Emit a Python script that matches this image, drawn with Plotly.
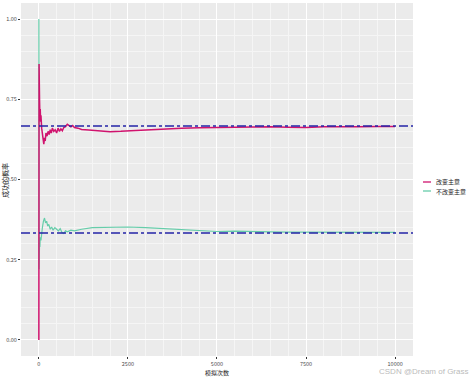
import plotly.graph_objects as go

# ---- data ----
change_x = [1, 2, 3, 5, 7, 10, 15, 20, 30, 40, 50, 60, 80, 100, 120, 140, 160, 180, 200,
            230, 260, 290, 320, 350, 380, 420, 460, 500, 540, 580, 620, 660, 700, 750, 800,
            850, 900, 950, 1000, 1100, 1200, 1400, 1600, 1800, 2000, 2300, 2600, 3000, 3500,
            4000, 4500, 5000, 5500, 6000, 6500, 7000, 7500, 8000, 8500, 9000, 9500, 10000]
change_y = [0.0, 0.5, 0.67, 0.8, 0.86, 0.8, 0.73, 0.75, 0.70, 0.72, 0.68, 0.70, 0.66, 0.64,
            0.63, 0.61, 0.63, 0.62, 0.645, 0.635, 0.65, 0.64, 0.655, 0.645, 0.66, 0.65, 0.655,
            0.645, 0.66, 0.65, 0.658, 0.652, 0.662, 0.665, 0.672, 0.668, 0.664, 0.668, 0.662,
            0.66, 0.656, 0.654, 0.652, 0.65, 0.649, 0.65, 0.652, 0.655, 0.658, 0.66, 0.661,
            0.662, 0.661, 0.662, 0.664, 0.663, 0.662, 0.664, 0.663, 0.664, 0.665, 0.665]

stay_x = [1, 2, 3, 5, 8, 12, 20, 30, 40, 60, 80, 100, 130, 160, 190, 220, 250, 280, 320,
          360, 400, 450, 500, 550, 600, 650, 700, 750, 800, 900, 1000, 1200, 1500, 1800,
          2000, 2500, 3000, 3500, 4000, 4500, 5000, 5500, 6000, 6500, 7000, 7500, 8000,
          8500, 9000, 9500, 10000]
stay_y = [1.0, 0.5, 0.33, 0.25, 0.22, 0.27, 0.30, 0.29, 0.32, 0.31, 0.34, 0.35, 0.37, 0.38,
          0.365, 0.37, 0.355, 0.36, 0.345, 0.352, 0.342, 0.35, 0.345, 0.34, 0.347, 0.335,
          0.332, 0.34, 0.337, 0.342, 0.34, 0.345, 0.35, 0.351, 0.352, 0.352, 0.35, 0.347,
          0.343, 0.34, 0.338, 0.339, 0.337, 0.337, 0.336, 0.336, 0.335, 0.336, 0.335,
          0.335, 0.335]

theory = [2 / 3, 1 / 3]
series_names = ["改变主意", "不改变主意"]
x_ticks = [0, 2500, 5000, 7500, 10000]
y_ticks = [0.0, 0.25, 0.5, 0.75, 1.0]

FONT = "Noto Sans CJK SC"
RED = "#D0136E"
TEAL = "#66CDAA"
W, H = 474, 377
L, R, T, B = 21, 413, 3, 356  # panel edges in pixels


def px_x(px):
    return (px - L) / (R - L)


def px_y(py):
    return (B - py) / (B - T)


fig = go.Figure()
# teal first so the red line is drawn on top (as in the reference)
fig.add_trace(go.Scatter(x=stay_x, y=stay_y, mode="lines", name=series_names[1],
                         line=dict(color=TEAL, width=1.2), showlegend=False,
                         hoverinfo="skip"))
fig.add_trace(go.Scatter(x=change_x, y=change_y, mode="lines", name=series_names[0],
                         line=dict(color=RED, width=1.5), showlegend=False,
                         hoverinfo="skip"))

axis_common = dict(
    showgrid=True, gridcolor="white", gridwidth=1, zeroline=False,
    ticks="outside", ticklen=2, tickcolor="#333333", tickwidth=0.8,
    tickfont=dict(family=FONT, size=5.5, color="#4D4D4D"),
    showline=False,
    minor=dict(showgrid=True, gridcolor="#F5F5F5", gridwidth=0.5),
)

fig.update_layout(
    width=W, height=H,
    margin=dict(l=L, r=W - R, t=T, b=H - B, autoexpand=False),
    plot_bgcolor="#EBEBEB", paper_bgcolor="white",
    font=dict(family=FONT, size=7, color="#1A1A1A"),
    showlegend=False,
    xaxis=dict(**axis_common, range=[-499.95, 10500.95], tickvals=x_ticks,
               ticktext=[str(v) for v in x_ticks]),
    yaxis=dict(**axis_common, range=[-0.05, 1.05], tickvals=y_ticks,
               ticktext=[f"{v:.2f}" for v in y_ticks]),
)

for t in theory:
    fig.add_hline(y=t, line=dict(color="#2424A8", width=1.3, dash="dashdot"))

# ggplot-like legend (keys + labels)
for name, color, py in [(series_names[0], RED, 182), (series_names[1], TEAL, 191)]:
    fig.add_shape(type="line", xref="paper", yref="paper",
                  x0=px_x(423), x1=px_x(431), y0=px_y(py), y1=px_y(py),
                  line=dict(color=color, width=1.3))
    fig.add_annotation(text=name, xref="paper", yref="paper", x=px_x(434),
                       y=px_y(py), xanchor="left", yanchor="middle", showarrow=False,
                       font=dict(family=FONT, size=6, color="#1A1A1A"))

fig.add_annotation(text="模拟次数", xref="paper", yref="paper", x=px_x(217), y=px_y(372.5),
                   xanchor="center", yanchor="middle", showarrow=False,
                   font=dict(family=FONT, size=6, color="#1A1A1A"))
fig.add_annotation(text="成功的概率", xref="paper", yref="paper", x=px_x(5), y=px_y(181),
                   xanchor="center", yanchor="middle", textangle=-90, showarrow=False,
                   font=dict(family=FONT, size=7, color="#1A1A1A"))
fig.add_annotation(text="CSDN @Dream of Grass", xref="paper", yref="paper",
                   x=px_x(470), y=px_y(371.5), xanchor="right", yanchor="middle",
                   showarrow=False,
                   font=dict(family="Liberation Sans", size=8, color="#BBBBBB"))

fig.write_html("out.html", config={"displayModeBar": False},
               post_script="document.body.style.margin='0';document.body.style.padding='0';")
